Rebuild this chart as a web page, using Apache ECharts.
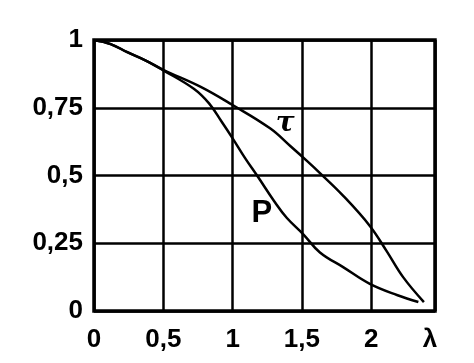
<!DOCTYPE html>
<html>
<head>
<meta charset="utf-8">
<script src="https://cdn.jsdelivr.net/npm/echarts@6/dist/echarts.min.js"></script>
<style>
html,body{margin:0;padding:0;background:#fff;}
#c{width:474px;height:363px;}
</style>
</head>
<body>
<div id="c"></div>
<script>
// Data
var tauX = [0, 0.12, 0.24, 0.37, 0.5, 0.77, 1.0, 1.27, 1.42, 1.54, 1.63, 1.8, 1.99, 2.11, 2.23, 2.38];
var tauY = [1.0, 0.985, 0.955, 0.925, 0.89, 0.827, 0.76, 0.674, 0.607, 0.552, 0.509, 0.424, 0.314, 0.222, 0.125, 0.033];
var pX = [0, 0.12, 0.24, 0.37, 0.5, 0.72, 0.83, 0.92, 1.0, 1.09, 1.18, 1.3, 1.39, 1.51, 1.63, 1.8, 1.99, 2.19, 2.34];
var pY = [1.0, 0.985, 0.955, 0.925, 0.888, 0.82, 0.766, 0.699, 0.637, 0.564, 0.497, 0.405, 0.344, 0.283, 0.216, 0.161, 0.10, 0.058, 0.033];
var xTickValues = [0, 0.5, 1, 1.5, 2];
var xTickLabels = ['0', '0,5', '1', '1,5', '2'];
var xAxisName = 'λ';
var yTickValues = [0, 0.25, 0.5, 0.75, 1];
var yTickLabels = ['0', '0,25', '0,5', '0,75', '1'];
var tauLabel = 'τ';
var pLabel = 'P';
var tauLabelPos = [1.38, 0.69];
var pLabelPos = [1.21, 0.36];

function zip(a, b) { return a.map(function (v, i) { return [v, b[i]]; }); }
function lookup(vals, labels, v, fallback) {
  for (var i = 0; i < vals.length; i++) if (Math.abs(vals[i] - v) < 1e-6) return labels[i];
  return fallback;
}

var chart = echarts.init(document.getElementById('c'));
var font = 'Liberation Sans, Arial, sans-serif';
chart.setOption({
  animation: false,
  backgroundColor: '#fff',
  grid: { left: 94, right: 39, top: 40, bottom: 52, show: true, borderColor: '#000', borderWidth: 3.5, backgroundColor: 'transparent' },
  xAxis: {
    type: 'value', min: 0, max: 2.46, interval: 0.5,
    axisLine: { show: false }, axisTick: { show: false },
    splitLine: { show: true, lineStyle: { color: '#000', width: 2.5 } },
    axisLabel: {
      margin: 16, color: '#000', fontFamily: font, fontWeight: 'bold', fontSize: 26,
      showMaxLabel: true,
      formatter: function (v) {
        var t = lookup(xTickValues, xTickLabels, v, null);
        return t === null ? '{n|' + xAxisName + '}' : t;
      },
      rich: { n: { fontFamily: font, fontWeight: 'bold', fontSize: 26, color: '#000', padding: [0, 10, 0, 0] } }
    }
  },
  yAxis: {
    type: 'value', min: 0, max: 1, interval: 0.25,
    axisLine: { show: false }, axisTick: { show: false },
    splitLine: { show: true, lineStyle: { color: '#000', width: 2.5 } },
    axisLabel: {
      margin: 11, color: '#000', fontFamily: font, fontWeight: 'bold', fontSize: 26,
      formatter: function (v) { return lookup(yTickValues, yTickLabels, v, ''); }
    }
  },
  series: [
    {
      name: 'tau', type: 'line', smooth: 0.4, symbol: 'none',
      data: zip(tauX, tauY),
      lineStyle: { color: '#000', width: 2.5 },
      markPoint: {
        symbol: 'circle', symbolSize: 0,
        label: { show: true, color: '#000', fontFamily: 'DejaVu Serif, serif', fontStyle: 'italic', fontWeight: 'bold', fontSize: 28, formatter: tauLabel },
        data: [{ coord: tauLabelPos }]
      }
    },
    {
      name: 'P', type: 'line', smooth: 0.4, symbol: 'none',
      data: zip(pX, pY),
      lineStyle: { color: '#000', width: 2.5 },
      markPoint: {
        symbol: 'circle', symbolSize: 0,
        label: { show: true, color: '#000', fontFamily: font, fontWeight: 'bold', fontSize: 31, formatter: pLabel },
        data: [{ coord: pLabelPos }]
      }
    }
  ]
});
</script>
</body>
</html>
